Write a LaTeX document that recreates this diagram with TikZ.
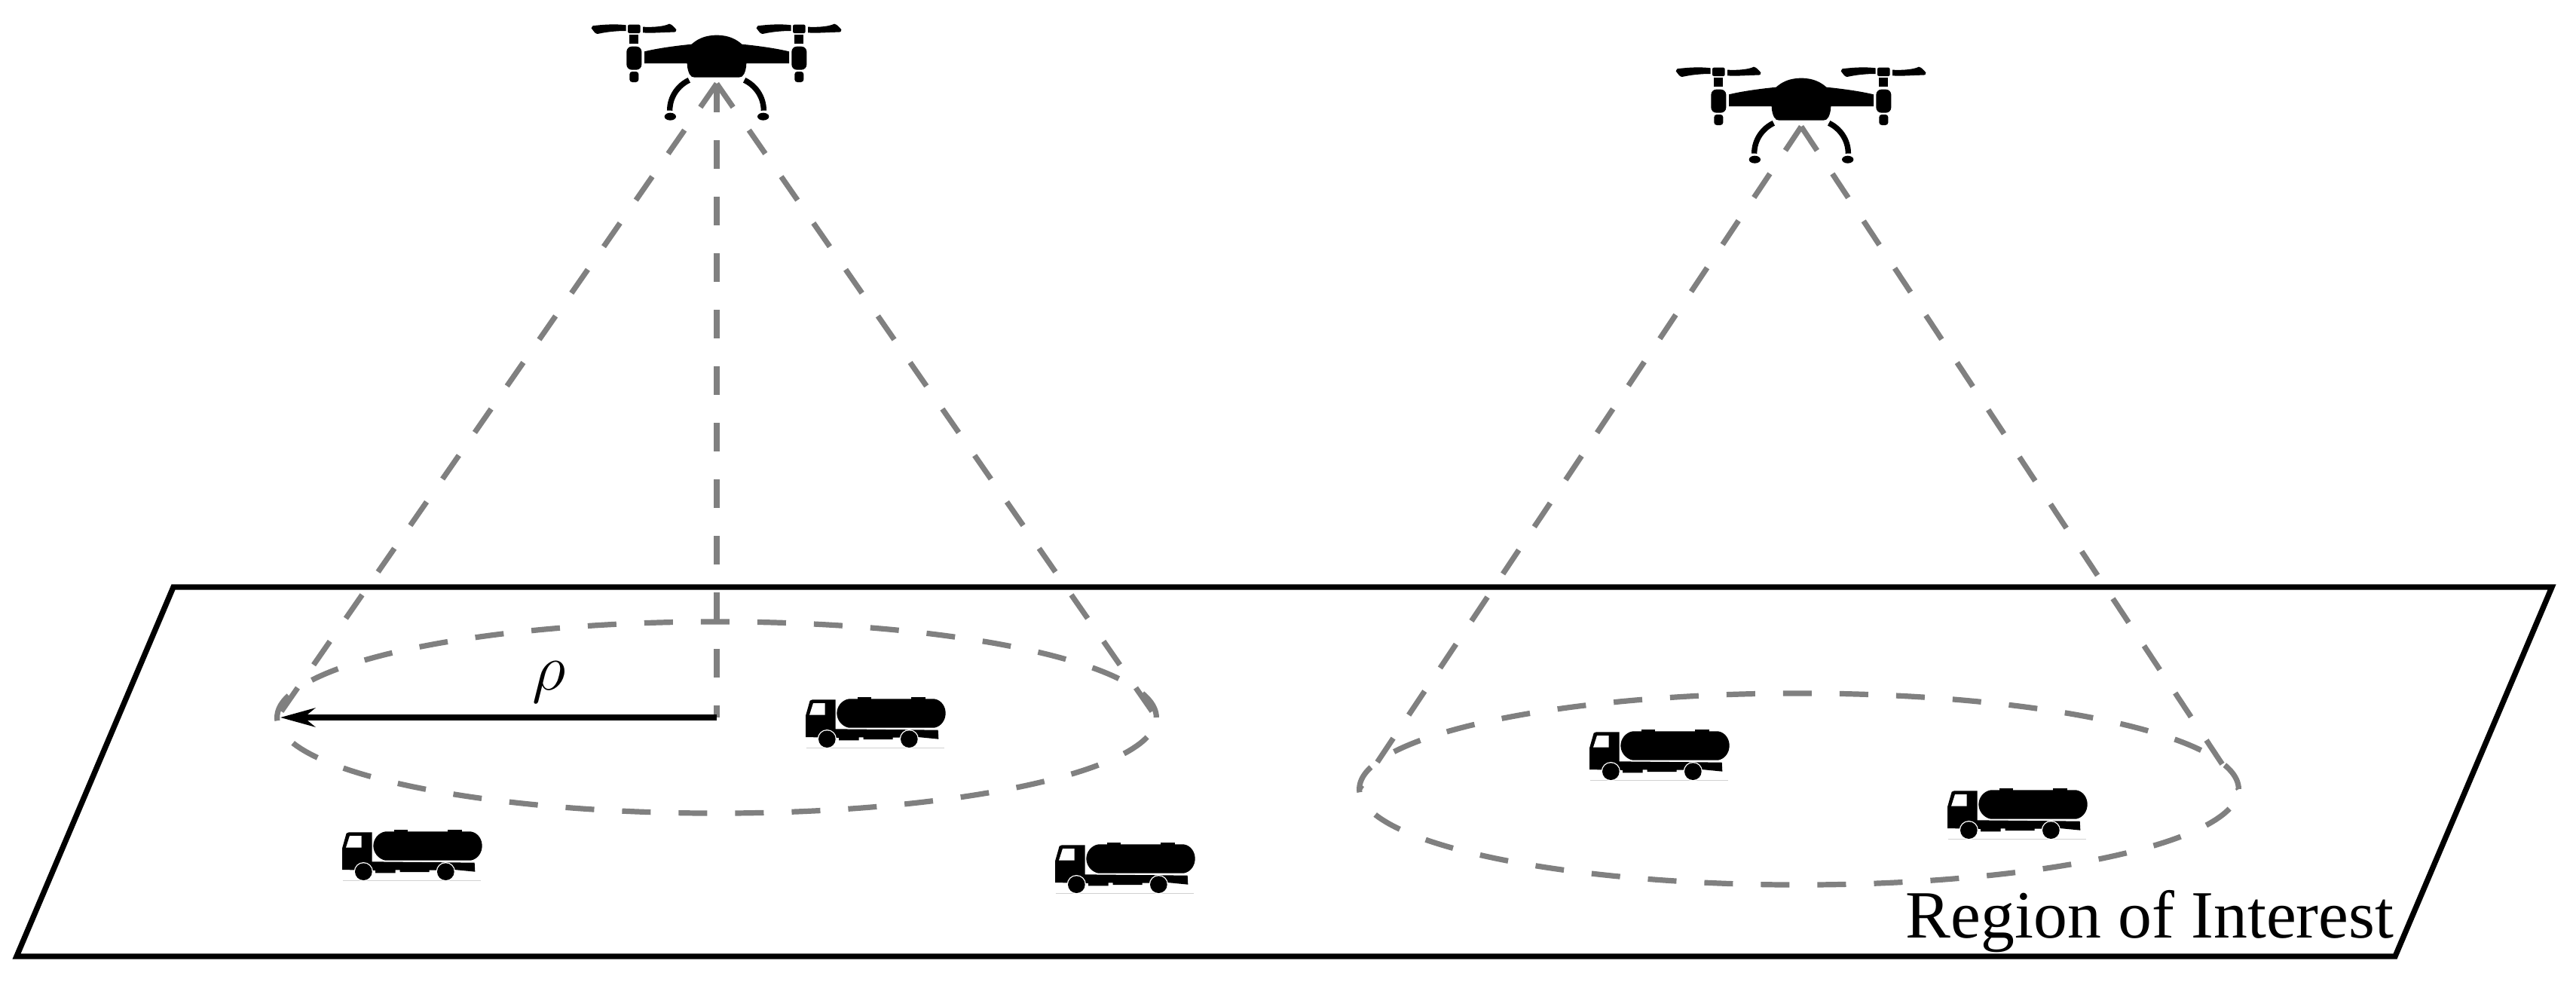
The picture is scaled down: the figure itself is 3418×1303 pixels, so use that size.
\documentclass[tikz,border=0pt]{standalone}
\usepackage{fontspec}
\setmainfont{Liberation Serif}
\usepackage{tikz}
\usetikzlibrary{backgrounds}
\usetikzlibrary{arrows.meta}
\usetikzlibrary{shapes.geometric}

\tikzset{
	beam/.style = {draw = gray,line width = 2.05pt,dash pattern = on 0.38cm off 0.37cm},
	cover/.style = {beam,ellipse,inner sep = 0pt,outer sep = 0pt,minimum width = 11.66cm,minimum height = 2.54cm},
	pics/drone/.style = {code = {
		\begin{scope}[scale = 1/3]
			\foreach \s in {1,-1} {
				\begin{scope}[xscale = \s]
					\draw[line width = 2.1pt] (110,-14) .. controls (152,6) and (187,50) .. (187,107);
					\fill (185,131) ellipse [x radius = 23,y radius = 15];
				\end{scope}
			}
			\fill (0,-193) .. controls (50,-193) and (80,-175) .. (100,-157) .. controls (170,-150) and (240,-140) .. (288,-128) -- (288,-81) -- (118,-81) .. controls (118,-60) and (112,-45) .. (108,-37) .. controls (104,-28) and (95,-25) .. (88,-25) -- (-88,-25) .. controls (-95,-25) and (-104,-28) .. (-108,-37) .. controls (-112,-45) and (-118,-60) .. (-118,-81) -- (-288,-81) -- (-288,-128) .. controls (-240,-140) and (-170,-150) .. (-100,-157) .. controls (-80,-175) and (-50,-193) .. (0,-193) -- cycle;
			\foreach \r in {328,-329} {
				\begin{scope}[shift = {(\r,0)}]
					\fill (35,-226) .. controls (80,-224) and (120,-228) .. (140,-238) .. controls (150,-236) and (160,-225) .. (168,-215) .. controls (168,-208) and (165,-205) .. (160,-205) .. controls (120,-205) and (70,-200) .. (35,-203) -- cycle;
					\fill (-32,-233) .. controls (-70,-238) and (-120,-236) .. (-165,-230) -- (-170,-221) .. controls (-160,-208) and (-155,-198) .. (-145,-198) .. controls (-110,-206) and (-70,-210) .. (-32,-210) -- cycle;
					\fill[rounded corners = 0.6pt] (-25,-235) rectangle (25,-201);
					\fill (-18,-195) rectangle (18,-158);
					\fill[rounded corners = 2pt] (-30,-148) rectangle (30,-55);
					\fill[rounded corners = 1pt] (-18,-48) rectangle (18,-6);
				\end{scope}
			}
		\end{scope}
	}},
	pics/truck/.style = {code = {
		\begin{scope}[scale = 1/3]
			\draw[black!18,line width = 0.3pt] (5,-2) -- (555,-2);
			\fill (3,-45) -- (3,-130) -- (20,-190) -- (30,-194) -- (122,-194) -- (122,-77) -- (530,-73) -- (532,-37) -- (450,-45) -- (350,-43) -- (350,-36) -- (233,-36) -- (233,-44) -- (215,-44) -- (215,-32) -- (135,-32) -- (135,-42) -- cycle;
			\fill[white] (33,-180) -- (80,-180) -- (80,-133) -- (18,-133) -- cycle;
			\fill (175,-197) -- (515,-197) .. controls (545,-192) and (560,-165) .. (560,-140) .. controls (560,-115) and (545,-88) .. (515,-82) -- (175,-82) .. controls (145,-88) and (127,-115) .. (127,-140) .. controls (127,-165) and (145,-192) .. (175,-197) -- cycle;
			\fill (210,-205) rectangle (265,-190);
			\fill (422,-205) rectangle (480,-190);
			\foreach \w in {88,415} {
				\fill[white] (\w,-37) circle [radius = 38];
				\fill (\w,-37) circle [radius = 34];
			}
		\end{scope}
	}}
}

\begin{document}
\begin{tikzpicture}[x = 0.01cm,y = -0.01cm]
		\useasboundingbox (0,0) rectangle (3418,1303);

		\coordinate (uava) at (951,111);
		\coordinate (uavb) at (2390,168);

		\node[cover] at (951,952) (cova) {};
		\node[cover] at (2387,1047) (covb) {};

		\begin{scope}[on background layer]
			\draw[black,line width = 2.1pt,line join = miter] (230,779) -- (3386,779) -- (3178,1269) -- (22,1269) -- cycle;
		\end{scope}

		\draw[beam] (uava) to (cova.west);
		\draw[beam] (uava) to (cova.center);
		\draw[beam] (uava) to (cova.east);
		\draw[beam] (uavb) to (covb.west);
		\draw[beam] (uavb) to (covb.east);

		\draw[black,line width = 2.05pt,-{Stealth[length = 0.46cm,width = 0.25cm]}] (cova.center) to (372,952);

		\node[inner sep = 0pt] at (729,905) (rho) {\fontsize{28}{28}\selectfont $\rho$};
		\node[anchor = base east,inner sep = 0pt] at (3177,1244) (roi) {\fontsize{25.5}{26}\selectfont Region of Interest};

		\pic (dronea) at (uava) {drone};
		\pic (droneb) at (uavb) {drone};

		\pic (trucka) at (1068,993) {truck};
		\pic (truckb) at (453,1169) {truck};
		\pic (truckc) at (1399,1186) {truck};
		\pic (truckd) at (2108,1036) {truck};
		\pic (trucke) at (2583,1114) {truck};
	\end{tikzpicture}
\end{document}
